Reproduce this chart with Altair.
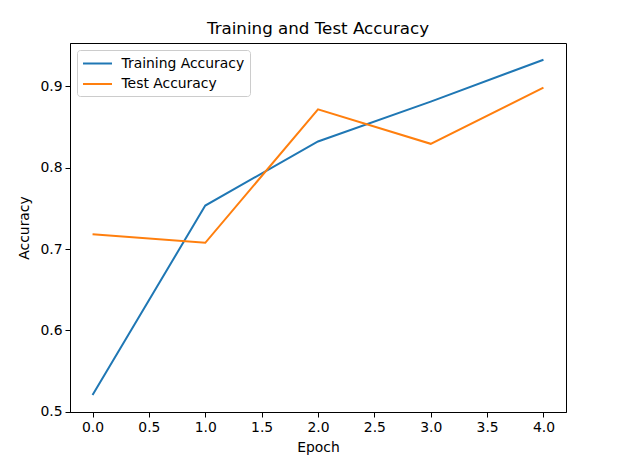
import altair as alt
import pandas as pd

epochs = [0, 1, 2, 3, 4]
train_acc = [0.5208, 0.7535, 0.8323, 0.8813, 0.9327]
test_acc = [0.7184, 0.7077, 0.8718, 0.8294, 0.8984]
series = ["Training Accuracy", "Test Accuracy"]
colors = ["#1f77b4", "#ff7f0e"]
x_ticks = [0.0, 0.5, 1.0, 1.5, 2.0, 2.5, 3.0, 3.5, 4.0]
y_ticks = [0.5, 0.6, 0.7, 0.8, 0.9]

df = pd.DataFrame({
    "Epoch": epochs * 2,
    "Accuracy": train_acc + test_acc,
    "Series": [series[0]] * len(epochs) + [series[1]] * len(epochs),
    "order": [0] * len(epochs) + [1] * len(epochs),
})

FONT = "DejaVu Sans"

chart = alt.Chart(df).mark_line(strokeWidth=2, clip=True).encode(
    x=alt.X("Epoch:Q", scale=alt.Scale(domain=[-0.2, 4.2], nice=False, zero=False),
            axis=alt.Axis(values=x_ticks, format=".1f", title="Epoch")),
    y=alt.Y("Accuracy:Q", scale=alt.Scale(domain=[0.4998, 0.9533], nice=False, zero=False),
            axis=alt.Axis(values=y_ticks, format=".1f", title="Accuracy")),
    color=alt.Color("Series:N", scale=alt.Scale(domain=series, range=colors),
                    legend=alt.Legend(title=None, orient="top-left", offset=7,
                                      symbolType="M-2,0H2", symbolSize=210,
                                      symbolStrokeWidth=2, symbolOffset=7,
                                      labelFontSize=13.9,
                                      labelFont=FONT, labelColor="black",
                                      fillColor="white", strokeColor="#cccccc",
                                      cornerRadius=3, padding=5, rowPadding=4.5,
                                      labelOffset=15.5)),
    detail="order:O",
).properties(
    width=496, height=369,
    title=alt.Title("Training and Test Accuracy", fontSize=16.7, fontWeight="normal",
                    font=FONT, color="black", offset=5),
    padding={"left": 70, "top": 43, "right": 60, "bottom": 51},
    autosize=alt.AutoSizeParams(type="none"),
).configure_axis(
    labelFont=FONT, titleFont=FONT, labelFontSize=13.9, titleFontSize=13.9,
    titleFontWeight="normal", labelColor="black", titleColor="black",
    domainColor="black", tickColor="black", tickSize=5, labelPadding=3,
    grid=False, domainWidth=1, tickWidth=1,
).configure_axisX(titlePadding=7).configure_axisY(titlePadding=8).configure_view(
    stroke="black", strokeWidth=1
)

chart.save("out.html", embed_options={"renderer": "svg", "actions": False})
